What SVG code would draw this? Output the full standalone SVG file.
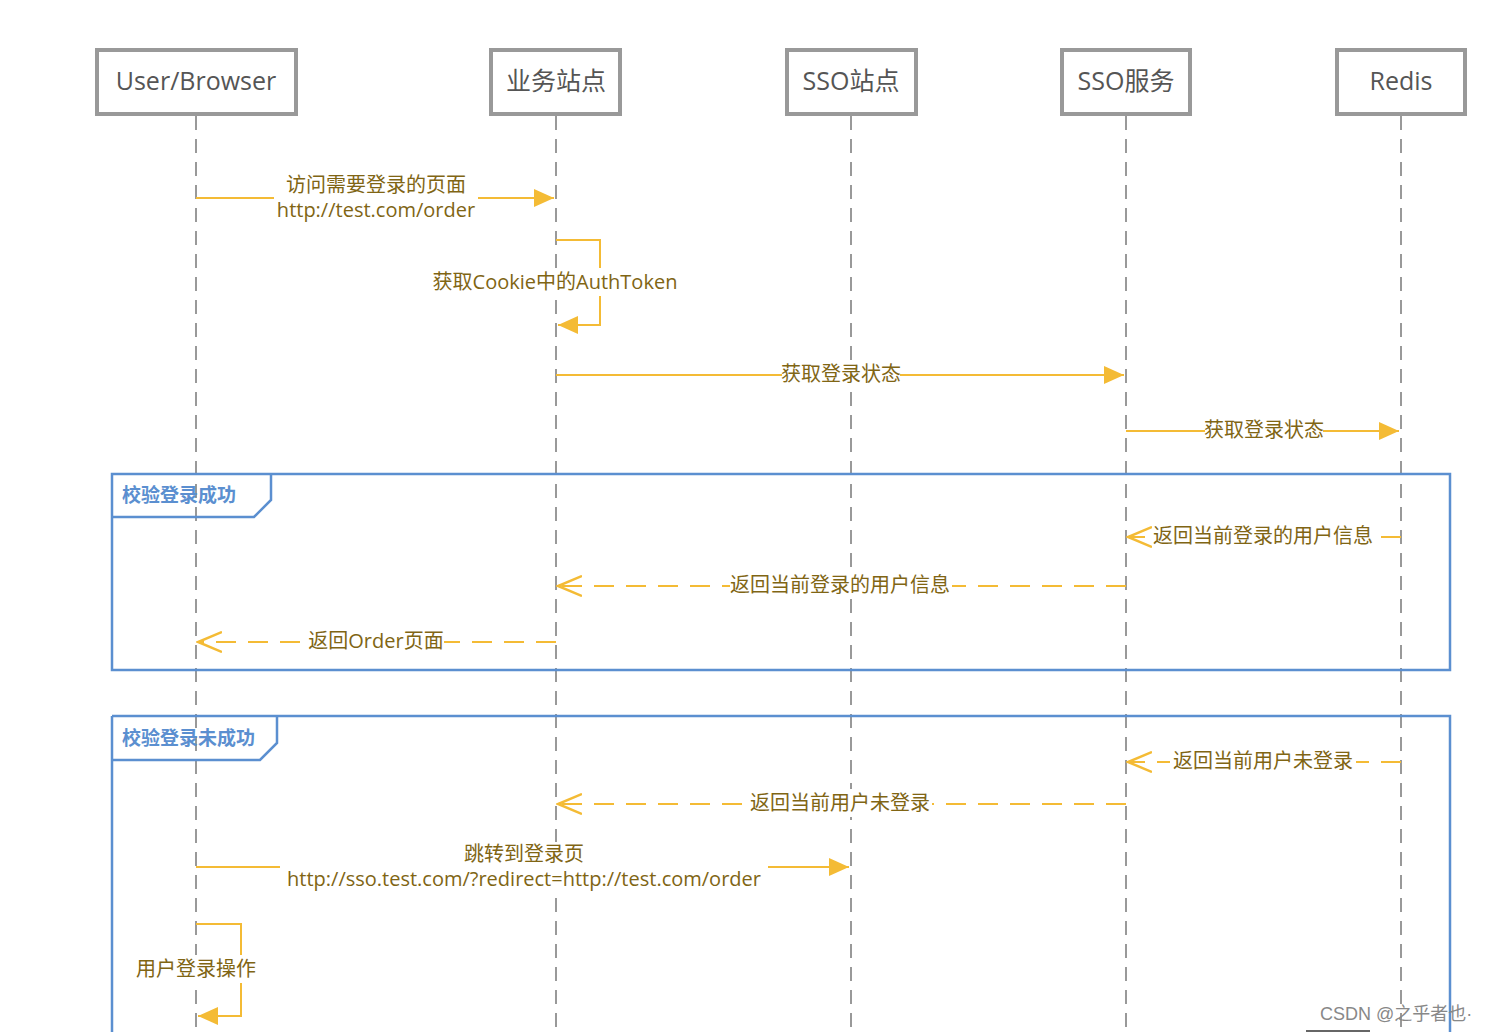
<svg xmlns="http://www.w3.org/2000/svg" width="1486" height="1032" viewBox="0 0 1486 1032">
<defs>
<style>
.head rect{fill:#fff;stroke:#999;stroke-width:4}
.head text{font-family:"Open Sans","Noto Sans CJK SC",sans-serif;font-size:25px;fill:#555;text-anchor:middle}
.life{stroke:#999;stroke-width:2;stroke-dasharray:14 9;fill:none}
.msg{stroke:#f4bb35;stroke-width:2;fill:none}
.ret{stroke:#f4bb35;stroke-width:2;fill:none;stroke-dasharray:20 12}
.lbl{font-family:"Open Sans","Noto Sans CJK SC",sans-serif;font-size:20px;fill:#806514;text-anchor:middle}
.frame{fill:none;stroke:#5b8fd0;stroke-width:2.5}
.ftxt{font-family:"Noto Sans CJK SC",sans-serif;font-size:19px;font-weight:bold;fill:#5b8fd0}
</style>
<marker id="sol" markerWidth="22" markerHeight="18" refX="20" refY="9" orient="auto" markerUnits="userSpaceOnUse"><path d="M0,0 L20,9 L0,18 Z" fill="#f4bb35"/></marker>
<marker id="opn" markerWidth="26" markerHeight="22" refX="24" refY="11" orient="auto" markerUnits="userSpaceOnUse"><path d="M0,1 L24,11 L0,21" fill="none" stroke="#f4bb35" stroke-width="2.5"/></marker>
</defs>
<rect width="1486" height="1032" fill="#fff"/>
<g id="lifelines">
<line class="life" x1="196" y1="116" x2="196" y2="1032"/>
<line class="life" x1="556" y1="116" x2="556" y2="1032"/>
<line class="life" x1="851" y1="116" x2="851" y2="1032"/>
<line class="life" x1="1126" y1="116" x2="1126" y2="1032"/>
<line class="life" x1="1401" y1="116" x2="1401" y2="1032"/>
</g>
<g id="n-user" class="head"><rect x="97" y="50" width="199" height="64"/><text x="196" y="90">User/Browser</text></g>
<g id="n-biz" class="head"><rect x="491" y="50" width="129" height="64"/><text x="556" y="90">业务站点</text></g>
<g id="n-ssosite" class="head"><rect x="787" y="50" width="129" height="64"/><text x="851" y="90">SSO站点</text></g>
<g id="n-ssosvc" class="head"><rect x="1062" y="50" width="128" height="64"/><text x="1126" y="90">SSO服务</text></g>
<g id="n-redis" class="head"><rect x="1337" y="50" width="128" height="64"/><text x="1401" y="90">Redis</text></g>
<g id="frames">
<path class="frame" d="M112,474 H1450 V670 H112 Z"/>
<path class="frame" d="M112,517 H254 L271,500 V474"/>
<text class="ftxt" x="122" y="502">校验登录成功</text>
<path class="frame" d="M112,716 H1450 V1032 M112,716 V1032"/>
<path class="frame" d="M112,760 H260 L277,743 V716"/>
<text class="ftxt" x="122" y="745">校验登录未成功</text>
</g>
<g id="connectors">
<path class="msg" d="M196,198 H274 M478,198 H554" marker-end="url(#sol)"/>
<text class="lbl" x="376" y="192">访问需要登录的页面</text>
<text class="lbl" x="376" y="217">http://test.com/order</text>
<path class="msg" d="M556,240 H600 V325 H558" marker-end="url(#sol)"/>
<rect x="430" y="268" width="252" height="28" fill="#fff"/>
<text class="lbl" x="555" y="289">获取Cookie中的AuthToken</text>
<path class="msg" d="M556,375 H1124" marker-end="url(#sol)"/>
<rect x="782" y="362" width="118" height="26" fill="#fff"/>
<text class="lbl" x="841" y="381">获取登录状态</text>
<path class="msg" d="M1126,431 H1399" marker-end="url(#sol)"/>
<rect x="1205" y="418" width="118" height="26" fill="#fff"/>
<text class="lbl" x="1264" y="437">获取登录状态</text>
<path class="ret" d="M1401,537 H1128" marker-end="url(#opn)"/>
<rect x="1152" y="522" width="222" height="28" fill="#fff"/>
<text class="lbl" x="1263" y="543">返回当前登录的用户信息</text>
<path class="ret" d="M1126,586 H558" marker-end="url(#opn)"/>
<rect x="730" y="571" width="222" height="28" fill="#fff"/>
<text class="lbl" x="840" y="592">返回当前登录的用户信息</text>
<path class="ret" d="M556,642 H198" marker-end="url(#opn)"/>
<rect x="308" y="627" width="136" height="28" fill="#fff"/>
<text class="lbl" x="376" y="648">返回Order页面</text>
<path class="ret" d="M1401,762 H1128" marker-end="url(#opn)"/>
<rect x="1170" y="747" width="186" height="28" fill="#fff"/>
<text class="lbl" x="1263" y="768">返回当前用户未登录</text>
<path class="ret" d="M1126,804 H558" marker-end="url(#opn)"/>
<rect x="748" y="789" width="184" height="28" fill="#fff"/>
<text class="lbl" x="840" y="810">返回当前用户未登录</text>
<path class="msg" d="M196,867 H280 M768,867 H849" marker-end="url(#sol)"/>
<rect x="282" y="842" width="484" height="50" fill="#fff"/>
<text class="lbl" x="524" y="861">跳转到登录页</text>
<text class="lbl" x="524" y="886">http://sso.test.com/?redirect=http://test.com/order</text>
<path class="msg" d="M196,924 H241 V1016 H198" marker-end="url(#sol)"/>
<rect x="134" y="955" width="126" height="28" fill="#fff"/>
<text class="lbl" x="196" y="976">用户登录操作</text>
</g>
<text x="1320" y="1020" font-family="'Liberation Sans','Noto Sans CJK SC',sans-serif" font-size="18" fill="#888">CSDN @之乎者也·</text>
<line x1="1306" y1="1031" x2="1370" y2="1031" stroke="#333" stroke-width="1.5"/>
</svg>
